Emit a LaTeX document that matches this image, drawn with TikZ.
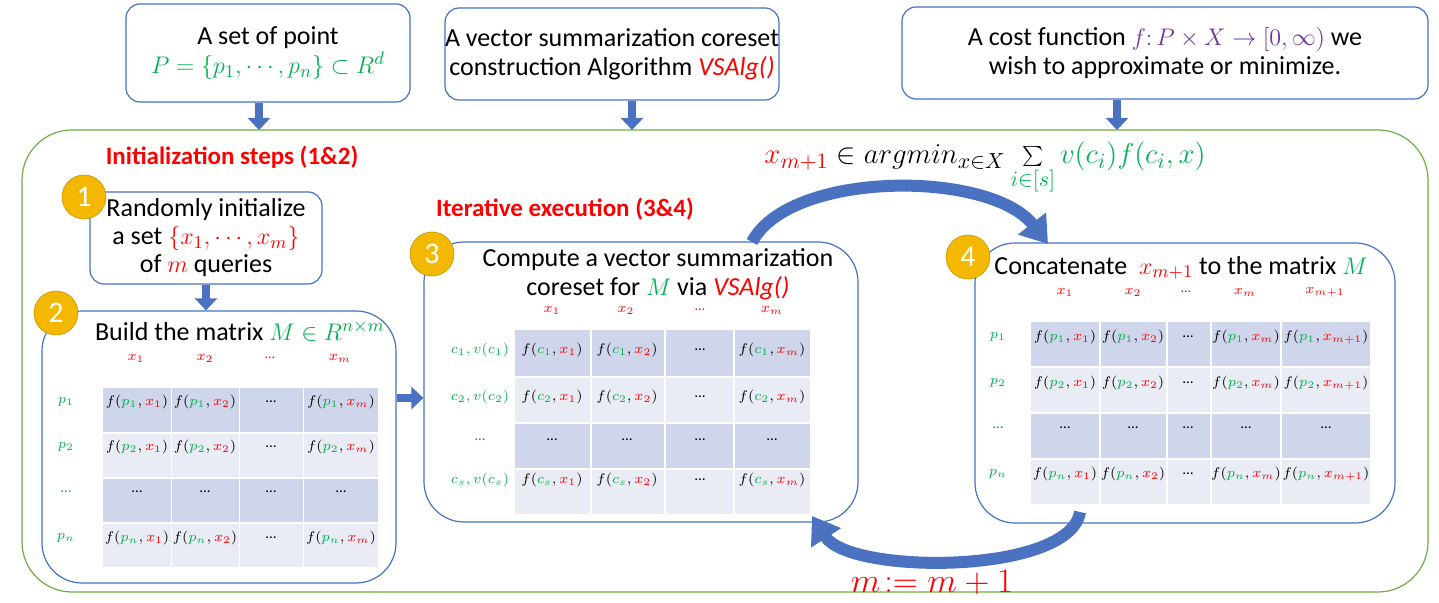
\documentclass[tikz,border=0pt]{standalone}
\usepackage{fontspec}
\setmainfont{Carlito}
\usetikzlibrary{arrows.meta}
\definecolor{bl}{HTML}{4472C4}
\definecolor{ab}{HTML}{4A72C0}
\definecolor{og}{HTML}{70AD47}
\definecolor{gn}{HTML}{00B050}
\definecolor{rd}{HTML}{FF0000}
\definecolor{pu}{HTML}{7030A0}
\definecolor{dk}{HTML}{CFD5EA}
\definecolor{lt}{HTML}{E9EBF5}
\definecolor{yl}{HTML}{F5B800}
\newcommand\G[1]{\textcolor{gn}{#1}}
\newcommand\R[1]{\textcolor{rd}{#1}}
\newcommand\F[2]{$f(\G{#1},\R{#2})$}
\newcommand\dd{\ldots}
\begin{document}
\begin{tikzpicture}[x=0.5pt,y=-0.5pt,
 box/.style={draw=bl,line width=0.6pt,rounded corners=#1,fill=white,inner sep=0pt},
 box/.default=8pt,
 num/.style={circle,fill=yl,draw=yl!80!black,line width=0.3pt,minimum size=22pt,inner sep=0pt,text=white,font=\fontsize{15}{15}\selectfont},
 dn/.style={ab,line width=4pt,-{Triangle[length=6pt,width=11pt]}},
 big/.style={ab,line width=6pt,-{Triangle[length=13pt,width=17pt]}},
 hd/.style={font=\fontsize{7}{8}\selectfont,text=rd},
 cl/.style={font=\fontsize{7.5}{8}\selectfont},
 tt/.style={font=\fontsize{13}{14.5}\selectfont,align=center}]
\useasboundingbox (0,0) rectangle (1439,603);
% top boxes
\node[box=7pt,minimum width=142pt,minimum height=49pt,tt] (ta) at (268,53) {A set of point\\ \G{$P=\{p_1,\cdots,p_n\}\subset R^d$}};
\node[box=7pt,minimum width=160pt,minimum height=46pt,tt] (tb) at (612,54) {A vector summarization coreset\\construction Algorithm \R{\textit{VSAlg()}}};
\node[box=7pt,minimum width=263pt,minimum height=46pt,tt] (tc) at (1165,53) {A cost function \textcolor{pu}{$f\colon P\times X\to[0,\infty)$} we\\wish to approximate or minimize.};
% outer
\node[draw=og,line width=0.6pt,rounded corners=25pt,minimum width=703pt,minimum height=231pt,inner sep=0pt] (out) at (725,361) {};
\coordinate (a1) at (259,130); \coordinate (a2) at (632,130); \coordinate (a3) at (1117,130);
\draw[dn] (ta.south -| a1) -- (a1);
\draw[dn] (tb.south -| a2) -- (a2);
\draw[dn] (tc.south -| a3) -- (a3);
\node[text=rd,font=\fontsize{12.5}{14}\selectfont\bfseries] at (232,157) {Initialization steps (1\&2)};
\node[text=rd,font=\fontsize{12.5}{14}\selectfont\bfseries] at (565,209) {Iterative execution (3\&4)};
% box 1
\node[box=7pt,minimum width=116pt,minimum height=46pt,tt,font=\fontsize{13}{14}\selectfont] (b1) at (206,238) {Randomly initialize\\a set \R{$\{x_1,\cdots,x_m\}$}\\of \R{$m$} queries};
\node[num] (n1) at (84,197) {1};
% box 2
\node[box=20pt,minimum width=177pt,minimum height=136pt] (b2) at (219,447) {};
\draw[dn] (b1.south) -- (b1.south |- b2.north);
\node[num] (n2) at (56,313) {2};
\node[tt] (t2) at (240,331) {Build the matrix \G{$M\in R^{n\times m}$}};
\foreach \r/\ya/\yb/\c in {1/388/432/dk,2/434/477/lt,3/479/522/dk,4/524/567/lt}
 \foreach \xa/\xb in {103/171,172/239,240/303,304/378}
  \fill[\c] (\xa,\ya) rectangle (\xb,\yb);
\foreach \x/\t in {136/$x_1$,205/$x_2$,270/\dd,340/$x_m$} \node[hd] at (\x,358) {\t};
\foreach \y/\t in {402/$p_1$,447/$p_2$,492/\dd,538/$p_n$} \node[cl,text=gn] at (66,\y) {\t};
\node[cl] at (137,402) {\F{p_1}{x_1}}; \node[cl] at (205,402) {\F{p_1}{x_2}}; \node[cl] at (271,402) {\dd}; \node[cl] at (341,402) {\F{p_1}{x_m}};
\node[cl] at (137,447) {\F{p_2}{x_1}}; \node[cl] at (205,447) {\F{p_2}{x_2}}; \node[cl] at (271,447) {\dd}; \node[cl] at (341,447) {\F{p_2}{x_m}};
\foreach \x in {137,205,271,341} \node[cl] at (\x,492) {\dd};
\node[cl] at (137,538) {\F{p_n}{x_1}}; \node[cl] at (205,538) {\F{p_n}{x_2}}; \node[cl] at (271,538) {\dd}; \node[cl] at (341,538) {\F{p_n}{x_m}};
% box 3
\node[box=20pt,minimum width=217pt,minimum height=140pt] (b3) at (641,382) {};
\draw[dn] (b2.east |- 0,398) -- (b3.west |- 0,398);
\node[num] (n3) at (432,254) {3};
\node[tt] (t3) at (658,274) {Compute a vector summarization\\coreset for \G{$M$} via \R{\textit{VSAlg()}}};
\foreach \r/\ya/\yb/\c in {1/330/376/dk,2/378/422/lt,3/424/468/dk,4/470/514/lt}
 \foreach \xa/\xb in {515/590,592/664,666/733,735/810}
  \fill[\c] (\xa,\ya) rectangle (\xb,\yb);
\foreach \x/\t in {552/$x_1$,626/$x_2$,700/\dd,772/$x_m$} \node[hd] at (\x,310) {\t};
\foreach \y/\t in {350/{$c_1,v(c_1)$},397/{$c_2,v(c_2)$},440/\dd,480/{$c_s,v(c_s)$}} \node[cl,text=gn] at (480,\y) {\t};
\node[cl] at (552,350) {\F{c_1}{x_1}}; \node[cl] at (627,350) {\F{c_1}{x_2}}; \node[cl] at (700,350) {\dd}; \node[cl] at (772,350) {\F{c_1}{x_m}};
\node[cl] at (552,397) {\F{c_2}{x_1}}; \node[cl] at (627,397) {\F{c_2}{x_2}}; \node[cl] at (700,397) {\dd}; \node[cl] at (772,397) {\F{c_2}{x_m}};
\foreach \x in {552,627,700,772} \node[cl] at (\x,440) {\dd};
\node[cl] at (552,480) {\F{c_s}{x_1}}; \node[cl] at (627,480) {\F{c_s}{x_2}}; \node[cl] at (700,480) {\dd}; \node[cl] at (772,480) {\F{c_s}{x_m}};
% box 4
\node[box=20pt,minimum width=210pt,minimum height=140pt] (b4) at (1185,383) {};
\node[num] (n4) at (968,257) {4};
\node[tt] (t4) at (1181,268) {Concatenate \ \R{$x_{m+1}$} to the matrix \G{$M$}};
\foreach \r/\ya/\yb/\c in {1/322/366/dk,2/368/412/lt,3/414/458/dk,4/460/504/lt}
 \foreach \xa/\xb in {1031/1099,1101/1166,1168/1210,1212/1280,1282/1370}
  \fill[\c] (\xa,\ya) rectangle (\xb,\yb);
\foreach \x/\t in {1065/$x_1$,1133/$x_2$,1186/\dd,1245/$x_m$,1325/$x_{m+1}$} \node[hd] at (\x,292) {\t};
\foreach \y/\t in {337/$p_1$,383/$p_2$,428/\dd,474/$p_n$} \node[cl,text=gn] at (998,\y) {\t};
\foreach \y/\p in {337/p_1,383/p_2,474/p_n} {
 \node[cl] at (1065,\y) {\F{\p}{x_1}}; \node[cl] at (1133,\y) {\F{\p}{x_2}}; \node[cl] at (1188,\y) {\dd};
 \node[cl] at (1246,\y) {\F{\p}{x_m}}; \node[cl] at (1326,\y) {\F{\p}{x_{m+1}}};}
\foreach \x in {1065,1133,1188,1246,1326} \node[cl] at (\x,428) {\dd};
% curved arrows
\coordinate (c3) at (752,242); \coordinate (c4) at (1048,244);
\draw[big] (c3) .. controls (790,170) and (990,170) .. (c4);
\coordinate (d4) at (1080,512); \coordinate (d3) at (812,516);
\draw[big] (d4) .. controls (1070,575) and (850,575) .. (d3);
\node[font=\fontsize{15}{17}\selectfont] (fm) at (985,168) {$\R{x_{m+1}}\in argmin_{x\in X}\sum\limits_{\G{i\in[s]}}\G{v(c_i)f(c_i,x)}$};
\node[font=\fontsize{18}{20}\selectfont,text=rd] (mm) at (932,582) {$m\!:=m+1$};
\end{tikzpicture}
\end{document}
